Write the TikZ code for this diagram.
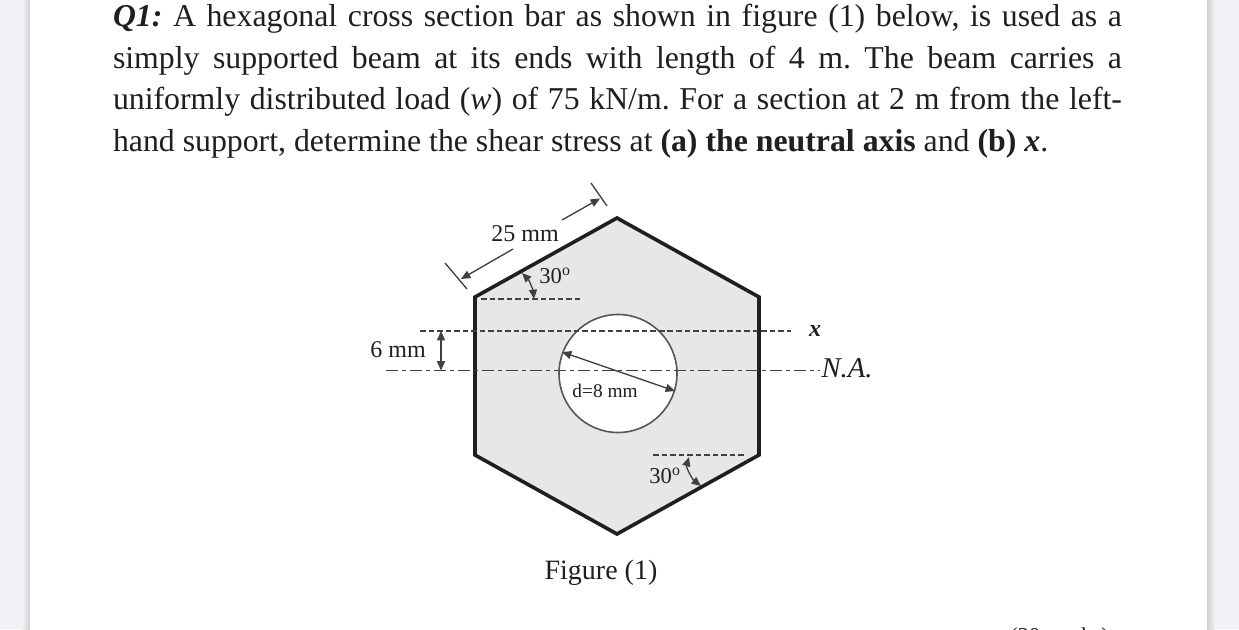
\documentclass[tikz,border=0pt]{standalone}
\usepackage{fontspec}
\setmainfont{Liberation Serif}
\usetikzlibrary{arrows.meta}
\definecolor{pagebg}{RGB}{241,241,247}
\definecolor{hexfill}{RGB}{231,231,231}
\definecolor{ink}{gray}{0.12}
\newcommand{\fs}[1]{\fontsize{#1}{#1}\selectfont}
\newcommand{\bodyline}[1]{\hbox to 756.75pt{\fs{23.85}#1}}
\frenchspacing
\tikzset{
  x=0.75pt,y=-0.75pt,
  txt/.style={inner sep=0pt,outer sep=0pt,text=ink},
  lineL/.style={txt,anchor=base west},
  thin line/.style={draw=ink!85,line width=1pt},
  tipped/.style={thin line,-{Triangle[length=7pt,width=6pt]}},
  both tipped/.style={thin line,{Triangle[length=7pt,width=6pt]}-{Triangle[length=7pt,width=6pt]}},
  dash line/.style={draw=ink!85,line width=1pt,dash pattern=on 4.2pt off 2.2pt},
  center line/.style={draw=ink!85,line width=1pt,dash pattern=on 9pt off 3pt on 3pt off 3pt},
  hexedge/.style={draw=ink,line width=2.7pt,line join=miter,fill=hexfill},
}
\begin{document}
\begin{tikzpicture}
\useasboundingbox (0,0) rectangle (1239,629);
\clip (0,0) rectangle (1239,629);
% page and gutters
\fill[pagebg] (0,0) rectangle (1239,629);
\shade[left color=pagebg,right color=black!18] (22,0) rectangle (30,629);
\shade[left color=black!18,right color=pagebg] (1207,0) rectangle (1215,629);
\fill[white] (30,0) rectangle (1207,629);
% question text
\node[lineL] (l1) at (113,26) {\bodyline{\textbf{\textit{Q1:}} A hexagonal cross section bar as shown in figure (1) below, is used as a}};
\node[lineL] (l2) at (113,68) {\bodyline{simply supported beam at its ends with length of 4 m. The beam carries a}};
\node[lineL] (l3) at (113,109) {\bodyline{uniformly distributed load (\textit{w}) of 75 kN/m. For a section at 2 m from the left-}};
\node[lineL] (l4) at (113,151) {\fs{23.85}hand support, determine the shear stress at \textbf{(a) the neutral axis} and \textbf{(b)} \textbf{\textit{x}}.};
% hexagon
\coordinate (T) at (617,218);
\coordinate (UR) at (759,297);
\coordinate (LR) at (759,455);
\coordinate (B) at (617,534);
\coordinate (LL) at (475,455);
\coordinate (UL) at (475,297);
\path[hexedge] (T) -- (UR) -- (LR) -- (B) -- (LL) -- (UL) -- cycle;
% hole
\coordinate (C) at (618,373.5);
\draw[draw=ink!75,line width=1.2pt,fill=white] (C) circle (59);
% horizontal reference lines
\coordinate (xa) at (420,331); \coordinate (xb) at (791,331);
\coordinate (na) at (386,370.5); \coordinate (nb) at (820,370.5);
\draw[dash line] (xa) -- (xb);
\draw[center line] (na) -- (nb);
% angle reference dashes
\coordinate (ua) at (481,299); \coordinate (ub) at (581,299);
\coordinate (la) at (653,455); \coordinate (lb) at (745,455);
\draw[dash line] (ua) -- (ub);
\draw[dash line] (la) -- (lb);
% 25 mm dimension
\coordinate (t1a) at (445,263); \coordinate (t1b) at (467,289);
\coordinate (t2a) at (591,183); \coordinate (t2b) at (607,206);
\draw[thin line] (t1a) -- (t1b);
\draw[thin line] (t2a) -- (t2b);
\coordinate (d1s) at (513,249); \coordinate (d1e) at (461,279);
\coordinate (d2s) at (562,220); \coordinate (d2e) at (600,198.5);
\draw[tipped] (d1s) -- (d1e);
\draw[tipped] (d2s) -- (d2e);
% 6 mm dimension
\coordinate (sa) at (441,331); \coordinate (sb) at (441,370.5);
\draw[both tipped] (sa) -- (sb);
% diameter
\coordinate (da) at (562,352); \coordinate (db) at (675,391);
\draw[both tipped] (da) -- (db);
% angle arcs
\coordinate (a1) at (522,273); \coordinate (a2) at (534,299);
\draw[both tipped] (a1) .. controls (529,280) and (533,290) .. (a2);
\coordinate (b1) at (689,457); \coordinate (b2) at (701,486);
\draw[both tipped] (b1) .. controls (686,467) and (692,479) .. (b2);
% labels
\node[txt,font=\fs{18}] (lab25) at (525,234) {25 mm};
\node[txt,font=\fs{17}] (lab30a) at (555,276) {30\textsuperscript{o}};
\node[txt,font=\fs{18}] (lab6) at (398,350) {6 mm};
\node[txt,font=\fs{14.5}] (labd) at (605,391) {d=8 mm};
\node[txt,font=\fs{18}\bfseries\itshape] (labx) at (815,331) {x};
\node[txt,font=\fs{21.5}\itshape] (labna) at (847,368) {N.A.};
\node[txt,font=\fs{17}] (lab30b) at (665,476) {30\textsuperscript{o}};
\node[txt,font=\fs{21}] (fig) at (601,573) {Figure (1)};
\node[lineL,font=\fs{17}] (marks) at (1010,643) {(30 marks)};
\end{tikzpicture}
\end{document}
